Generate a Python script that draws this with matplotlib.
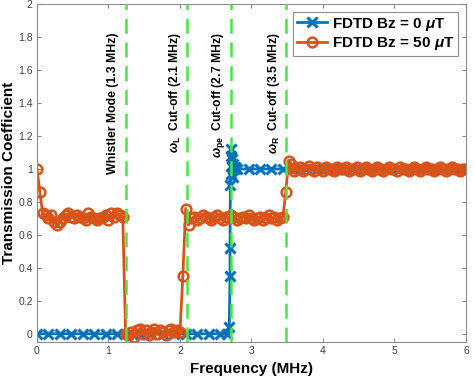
import numpy as np
import matplotlib.pyplot as plt
from matplotlib.ticker import FormatStrFormatter

plt.rcParams['font.family'] = ['Liberation Sans', 'DejaVu Sans']
plt.rcParams['mathtext.fontset'] = 'custom'
plt.rcParams['mathtext.it'] = 'Liberation Sans:italic:bold'
plt.rcParams['mathtext.rm'] = 'Liberation Sans:bold'

# FDTD Bz = 0 uT
blue_f = [0.00, 0.16, 0.32, 0.48, 0.64, 0.80, 0.96, 1.12, 1.28, 1.44, 1.60, 1.76,
          1.92, 2.08, 2.24, 2.40, 2.56, 2.66, 2.69,
          2.70, 2.70, 2.705, 2.71, 2.715, 2.72, 2.725, 2.73, 2.735, 2.74, 2.75, 2.77,
          2.80, 2.96, 3.12, 3.28, 3.44, 3.60, 3.76, 3.92, 4.08, 4.24, 4.40, 4.56,
          4.72, 4.88, 5.04, 5.20, 5.36, 5.52, 5.68, 5.84, 6.00]
blue_t = [0.00, 0.00, 0.00, 0.00, 0.00, 0.00, 0.00, 0.00, 0.00, 0.00, 0.00, 0.00,
          0.00, 0.00, 0.00, 0.00, 0.00, 0.00, 0.04,
          0.35, 0.52, 0.90, 1.08, 0.97, 1.12, 1.02, 1.06, 0.95, 1.03, 1.00, 1.01,
          1.00, 1.00, 1.00, 1.00, 1.00, 1.00, 1.00, 1.00, 1.00, 1.00, 1.00, 1.00,
          1.00, 1.00, 1.00, 1.00, 1.00, 1.00, 1.00, 1.00, 1.00]

# FDTD Bz = 50 uT, sampled every 0.04 MHz from 0 to 6
orange_f = np.linspace(0, 6, 151)
orange_t = [
    1.00, 0.86, 0.73, 0.72, 0.70, 0.72, 0.68, 0.66, 0.68, 0.70,
    0.72, 0.73, 0.71, 0.70, 0.72, 0.71, 0.70, 0.69, 0.73, 0.71,
    0.70, 0.69, 0.70, 0.71, 0.72, 0.69, 0.73, 0.71, 0.73, 0.72,
    0.71,
    0.00, -0.01, 0.01, -0.02, 0.02, 0.03, 0.00, 0.02, -0.01, 0.01,
    0.03, 0.00, 0.02, 0.01, -0.01, 0.02, 0.03, 0.01, 0.02, 0.01,
    0.35, 0.76, 0.66,
    0.70, 0.71, 0.69, 0.70, 0.72, 0.71, 0.70, 0.69, 0.71, 0.72,
    0.70, 0.69, 0.71, 0.70, 0.72, 0.71, 0.69, 0.70, 0.71, 0.70,
    0.72, 0.70, 0.69, 0.70, 0.71, 0.69, 0.70, 0.72, 0.70, 0.71,
    0.69, 0.70, 0.71,
    0.86, 1.05,
    1.03, 0.99, 1.00, 1.01, 0.99, 1.00, 1.02, 1.00, 0.99, 1.01,
    1.00, 0.99, 1.01, 1.00, 1.00, 0.99, 1.01, 1.00, 1.00, 1.01,
    0.99, 1.00, 1.00, 1.01, 0.99, 1.00, 1.01, 1.00, 0.99, 1.00,
    1.01, 1.00, 0.99, 1.00, 1.01, 1.00, 1.00, 0.99, 1.01, 1.00,
    1.00, 0.99, 1.00, 1.01, 1.00, 0.99, 1.00, 1.01, 1.00, 1.00,
    0.99, 1.00, 1.01, 1.00, 0.99, 1.00, 1.01, 1.00, 1.00, 0.99,
    1.00, 1.00]

# cut-off frequencies (drawn positions) and their labels
cut_f = [1.24, 2.10, 2.71, 3.49]
cut_labels = ['Whistler Mode (1.3 MHz)',
              r'$\omega_{\mathrm{L}}$  Cut-off (2.1 MHz)',
              r'$\omega_{\mathrm{pe}}$  Cut-off (2.7 MHz)',
              r'$\omega_{\mathrm{R}}$  Cut-off (3.5 MHz)']

c_blue = (0, 0.447, 0.741)
c_orange = (0.85, 0.325, 0.098)
c_green = '#4be44b'
c_axis = '#8c8c8c'

fig = plt.figure(figsize=(4.74, 3.8), dpi=100)
ax = fig.add_axes([0.078, 0.1, 0.905, 0.889])

ax.plot(blue_f, blue_t, color=c_blue, lw=2, marker='x', ms=6.5, mew=2.2,
        label=r'FDTD Bz = 0 $\mu$T')
ax.plot(orange_f, orange_t, color=c_orange, lw=2, marker='o', ms=7, mew=1.8,
        mfc='none', label=r'FDTD Bz = 50 $\mu$T')

for f, lab in zip(cut_f, cut_labels):
    ax.axvline(f, color=c_green, lw=1.8, ls=(0, (6, 3.5)), zorder=5)
    ax.text(f - 0.17, 1.83, lab, rotation=90, ha='center', va='top',
            fontsize=8.8, fontweight='bold')

ax.set_xlim(0, 6)
ax.set_ylim(-0.05, 2)
ax.set_xticks(range(7))
ax.set_yticks(np.arange(0, 2.01, 0.2))
ax.yaxis.set_major_formatter(FormatStrFormatter('%g'))
ax.tick_params(direction='in', top=True, right=True, labelsize=7.5,
               colors=c_axis, labelcolor='#404040', length=3, pad=3)
for s in ax.spines.values():
    s.set_color(c_axis)
    s.set_linewidth(0.8)

ax.set_xlabel('Frequency (MHz)', fontsize=11, fontweight='bold', labelpad=4)
ax.set_ylabel('Transmission Coefficient', fontsize=11, fontweight='bold')
ax.yaxis.set_label_coords(-0.048, 0.5)

leg = ax.legend(loc='upper right', prop={'weight': 'bold', 'size': 11},
                handlelength=2.0, handletextpad=0.3, labelspacing=0.15,
                borderpad=0.25, borderaxespad=0.5, fancybox=False, framealpha=1)
leg.get_frame().set_edgecolor(c_axis)
leg.get_frame().set_linewidth(0.8)

plt.savefig('out.png', dpi=100)
